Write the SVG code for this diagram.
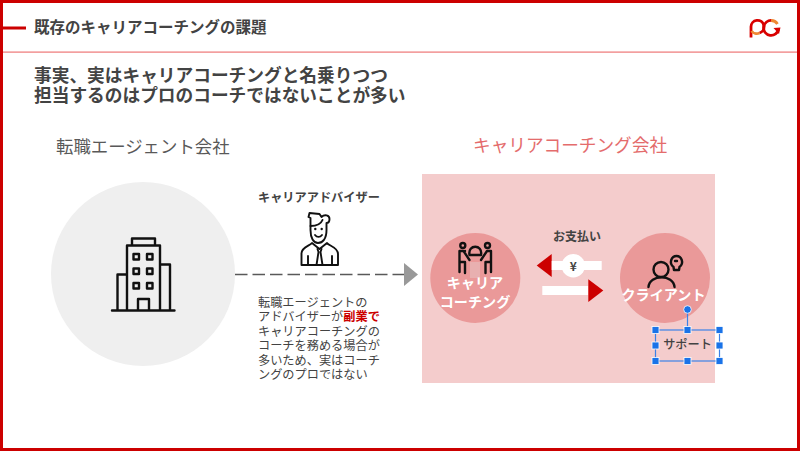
<svg xmlns="http://www.w3.org/2000/svg" width="800" height="451" viewBox="0 0 800 451">
<style>
text{font-family:"Noto Sans CJK JP","Noto Sans",sans-serif;fill:#434343}
.b{font-weight:700}
.w{fill:#fff;font-weight:700;font-size:14.100px;text-anchor:middle}
.s{font-size:12.200px;fill:#666}
.ic{fill:none;stroke:#111;stroke-width:2.400;stroke-linejoin:round;stroke-linecap:round}
.h{fill:#1a73e8;stroke:#fff;stroke-width:.8}
</style>
<rect width="800" height="451" fill="#fff"/>
<g id="frame">
<rect x="1.500" y="1.500" width="797" height="448" fill="none" stroke="#cc0000" stroke-width="3"/>
<rect x="3" y="26.500" width="23" height="3" fill="#cc0000"/>
<rect x="3" y="51.500" width="794" height="1.200" fill="#ee7777"/>
</g>
<g id="logo" fill="none" stroke-width="2.800">
<path d="M751 37.500V27a6.500 6.500 0 1 1 8.500 6" stroke="#d90000"/>
<path d="M759.500 33a6.500 6.500 0 0 1-8-2" stroke="#ee8833"/>
<path d="M772 20.500a7.500 7.500 0 1 0 6.500 8.500" stroke="#d90000"/>
<path d="M771 20.500a7.500 7.500 0 0 1 6.500 3.500" stroke="#ee8833"/>
<path d="M773.500 28l7-.5-1.500 6.500z" fill="#d90000" stroke="none"/>
</g>
<text id="page-title" class="b" x="34" y="32.500" font-size="15.500">既存のキャリアコーチングの課題</text>
<g id="headline" class="b" font-size="17.700">
<text x="34" y="82">事実、実はキャリアコーチングと名乗りつつ</text>
<text x="34" y="102">担当するのはプロのコーチではないことが多い</text>
</g>
<text id="agent-title" x="56" y="152.500" font-size="17.400" style="fill:#595959">転職エージェント会社</text>
<text id="career-title" x="473" y="151.500" font-size="17.650" style="fill:#e46c6c">キャリアコーチング会社</text>
<rect id="career-panel" x="422" y="174" width="293" height="209" fill="#f4cccc"/>
<g id="agent-company">
<circle cx="143" cy="274" r="92" fill="#efefef"/>
<g class="ic">
<path d="M112 310.500h62.500M127 310.500V245.500h33v65M132 245.500v-7h23v7M127 274.500h-9.500v36M160 264.500h10v46M138 310.500v-11.500h11v11.500"/>
<rect x="133.500" y="254" width="5.500" height="5.500"/><rect x="147" y="254" width="5.500" height="5.500"/>
<rect x="133.500" y="268.500" width="5.500" height="5.500"/><rect x="147" y="268.500" width="5.500" height="5.500"/>
<rect x="133.500" y="283" width="5.500" height="5.500"/><rect x="147" y="283" width="5.500" height="5.500"/>
</g>
</g>
<g id="advisor">
<text class="b" x="258" y="202" font-size="12.200">キャリアアドバイザー</text>
<g class="ic" style="stroke-width:1.900">
<path d="M310.500 225v-7l-2-1 1-4 10 1 2 3c3-3 8-2 8 2s-2 4-3 4v7c0 9-4 13-8.500 13s-7.500-5-7.500-13z"/>
<path d="M310.500 226c4 0 10-1 12-6"/>
<path d="M315 235c2 2.500 5 2.500 7 0"/>
<path d="M312 243c-2 3-11 4-10.500 11v11h36.500v-11c0-7-9-8-11-11l-7.500 6z"/>
<path d="M317.500 249l1 3-2 13M321.500 249l-1 3 2 13M308 256v9M332 256v9"/>
</g>
<circle cx="315.300" cy="229" r="1.200" fill="#111"/><circle cx="321.700" cy="229" r="1.200" fill="#111"/>
</g>
<g id="connectors">
<path d="M235 274.500H404" stroke="#595959" stroke-width="1.500" stroke-dasharray="12.500 5" fill="none"/>
<path d="M404 263l14 11.500-14 11.500z" fill="#999"/>
</g>
<g id="advisor-note" class="s">
<text x="258" y="306.500">転職エージェントの</text>
<text x="258" y="321">アドバイザーが<tspan class="b" style="fill:#cc0000">副業で</tspan></text>
<text x="258" y="335.500">キャリアコーチングの</text>
<text x="258" y="350">コーチを務める場合が</text>
<text x="258" y="364.500">多いため、実はコーチ</text>
<text x="258" y="379">ングのプロではない</text>
</g>
<g id="coaching">
<circle cx="475.300" cy="278" r="45" fill="#ea9999"/>
<rect x="470" y="262" width="10" height="16" fill="#e8b0b0"/>
<g class="ic">
<circle cx="462.800" cy="245.500" r="2.500"/><circle cx="487.500" cy="245.500" r="2.500"/>
<path d="M469.500 255c-2-11 13.500-11 11.500 0z"/>
<path d="M459.500 251v21M465 251v0M459.500 251h4l6 9h0M465 262v11M491 251v21M491 251h-4l-6 9M485.500 262v11M460 262h5M490.500 262h-5"/>
</g>
<text class="w" x="475" y="288">キャリア</text>
<text class="w" x="475" y="307">コーチング</text>
</g>
<g id="payment">
<text class="b" x="553" y="241" font-size="12">お支払い</text>
<path d="M536.700 265.500l15-11.500v23z" fill="#cc0000"/>
<rect x="551.700" y="261" width="50" height="9" fill="#fff"/>
<circle cx="573.300" cy="265.700" r="11.700" fill="#fff"/>
<text class="b" x="573.300" y="270.500" font-size="12" text-anchor="middle">¥</text>
<rect x="542.300" y="286" width="46" height="9" fill="#fff"/>
<path d="M588.300 279.300l15 11.300-15 11.400z" fill="#cc0000"/>
</g>
<g id="client">
<circle cx="665" cy="278" r="45" fill="#ea9999"/>
<g class="ic">
<circle cx="661" cy="269.500" r="7.500"/>
<path d="M648.500 287c1-13 25-13 26 0"/>
<path d="M673.500 267c-5-4-2-11 3-11s8 7 3 11l-.5 3h-5z"/><path d="M675 261h2"/>
</g>
<text class="w" x="663.500" y="300">クライアント</text>
</g>
<g id="support">
<path d="M687.500 310v20" stroke="#3b82e8" stroke-width="1.200"/>
<rect x="655.500" y="330" width="64" height="31" fill="none" stroke="#3b82e8" stroke-width="1.200"/>
<text x="687.500" y="349" font-size="12.200" text-anchor="middle" font-weight="500">サポート</text>
<circle class="h" cx="687.500" cy="309.500" r="3.800"/>
<rect class="h" x="652" y="326.500" width="7" height="7"/><rect class="h" x="684" y="326.500" width="7" height="7"/><rect class="h" x="716" y="326.500" width="7" height="7"/>
<rect class="h" x="652" y="342" width="7" height="7"/><rect class="h" x="716" y="342" width="7" height="7"/>
<rect class="h" x="652" y="357.500" width="7" height="7"/><rect class="h" x="684" y="357.500" width="7" height="7"/><rect class="h" x="716" y="357.500" width="7" height="7"/>
</g>
</svg>
